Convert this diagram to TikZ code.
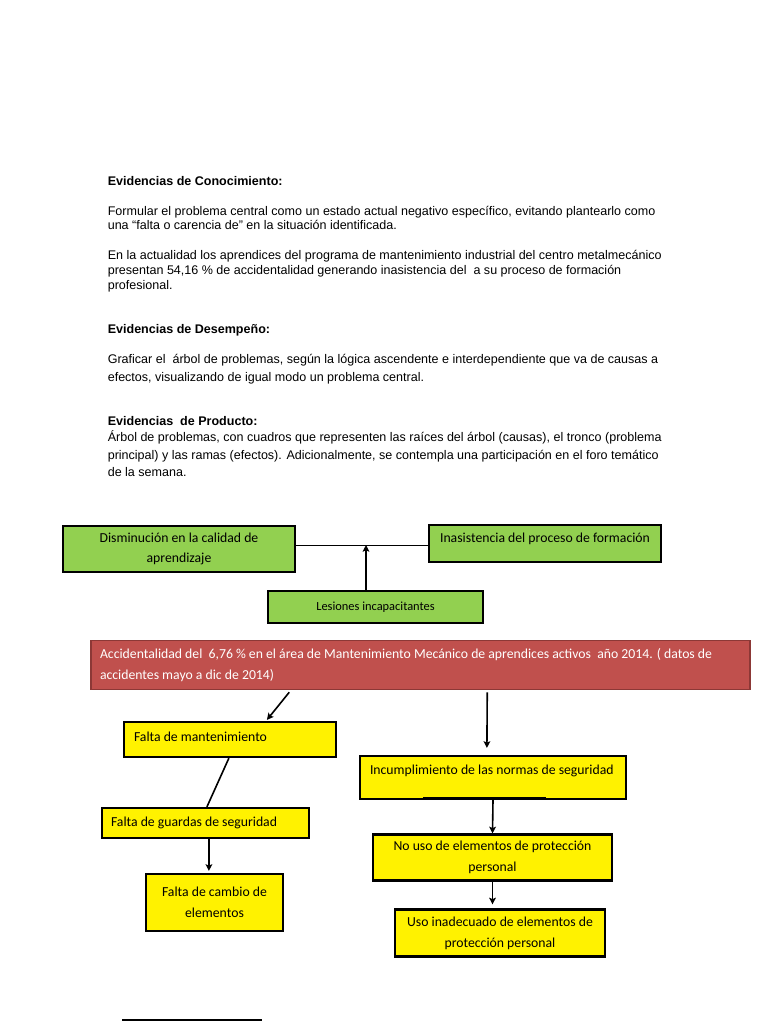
\documentclass[tikz,border=0pt]{standalone}
\usepackage{fontspec}
\setmainfont{Liberation Sans}
\newfontfamily\boxfont{Carlito}
\usetikzlibrary{arrows.meta,calc}

\newlength\px
\setlength\px{0.75pt}
\definecolor{effectgreen}{HTML}{92D050}
\definecolor{centralred}{HTML}{C0504D}
\definecolor{centraledge}{HTML}{8C3836}

\tikzset{
  body/.style={anchor=base west, inner sep=0pt, font=\fontsize{9.4}{11}\selectfont},
  head/.style={body, font=\fontsize{9.4}{11}\selectfont\bfseries},
  cause/.style={draw, line width=2.2\px, fill=yellow, inner sep=0pt,
    font=\boxfont\fontsize{10.3}{15.5}\selectfont},
  effect/.style={cause, fill=effectgreen},
  central/.style={draw=centraledge, line width=1.5\px, fill=centralred, text=white,
    inner sep=0pt, font=\boxfont\fontsize{10.3}{15.5}\selectfont},
}

\begin{document}
\begin{tikzpicture}[x=0.75pt, y=-0.75pt, >={Stealth[length=5pt,width=5pt,inset=1pt]}, line width=1.6\px]
  \fill[white] (0,0) rectangle (768,1024);

  % texto de evidencias
  \node[head] (h1) at (107,185) {Evidencias de Conocimiento:};
  \node[body] (p1a) at (107,215) {Formular el problema central como un estado actual negativo específico, evitando plantearlo como};
  \node[body] (p1b) at (107,229) {una “falta o carencia de” en la situación identificada.};
  \node[body] (p2a) at (107,259) {En la actualidad los aprendices del programa de mantenimiento industrial del centro metalmecánico};
  \node[body] (p2b) at (107,274) {presentan 54,16 \% de accidentalidad generando inasistencia del\ \ a su proceso de formación};
  \node[body] (p2c) at (107,289) {profesional.};
  \node[head] (h2) at (107,333) {Evidencias de Desempeño:};
  \node[body] (p3a) at (107,363) {Graficar el\ \ árbol de problemas, según la lógica ascendente e interdependiente que va de causas a};
  \node[body] (p3b) at (107,381) {efectos, visualizando de igual modo un problema central.};
  \node[head] (h3) at (107,425) {Evidencias\ \ de Producto:};
  \node[body] (p4a) at (107,441) {Árbol de problemas, con cuadros que representen las raíces del árbol (causas), el tronco (problema};
  \node[body] (p4b) at (107,459) {principal) y las ramas (efectos). Adicionalmente, se contempla una participación en el foro temático};
  \node[body] (p4c) at (107,476) {de la semana.};

  % efectos
  \node[effect, minimum width=232\px, minimum height=46\px, align=center] (dis) at (179,549)
    {Disminución en la calidad de\\aprendizaje};
  \node[effect, minimum width=232\px, minimum height=37\px, text depth=12\px] (ina) at (545,543.5)
    {Inasistencia del proceso de formación};
  \node[effect, minimum width=215\px, minimum height=32\px, font=\boxfont\fontsize{9.3}{12}\selectfont] (les) at (375.5,607)
    {Lesiones incapacitantes};

  % problema central
  \node[central, minimum width=659\px, minimum height=49\px, text width=641\px, align=flush left] (acc) at (420.5,665)
    {\mbox{Accidentalidad del\ \ 6,76 \% en el área de Mantenimiento Mecánico de aprendices activos\ \ año 2014. ( datos de}\\\mbox{accidentes mayo a dic de 2014)}};

  % causas
  \node[cause, minimum width=212\px, minimum height=35\px, text width=192\px, align=flush left, text depth=6\px] (fman) at (230,739.5)
    {Falta de mantenimiento};
  \node[cause, minimum width=207\px, minimum height=30\px, text width=189\px, align=flush left] (fgua) at (205.5,823)
    {Falta de guardas de seguridad};
  \node[cause, minimum width=137\px, minimum height=57\px, align=center] (fcam) at (214.5,902.5)
    {Falta de cambio de\\elementos};
  \node[cause, minimum width=266\px, minimum height=43\px, text width=246\px, align=flush left, text depth=15\px] (inc) at (493,777.5)
    {\mbox{Incumplimiento de las normas de seguridad}};
  \node[cause, minimum width=239\px, minimum height=46\px, align=center] (nouso) at (492.5,857.5)
    {No uso de elementos de protección\\personal};
  \node[cause, minimum width=210\px, minimum height=47\px, align=center] (uso) at (500,933)
    {Uso inadecuado de elementos de\\protección personal};
  \draw[line width=0.9\px] ($(inc.south west)+(64,-2.5)$) -- ++(123,0);

  % conectores
  \coordinate (join) at (366,545);
  \draw[line width=1\px] (dis.east |- join) -- (ina.west |- join);
  \draw[->] (les.north -| join) -- (join);
  \draw[->] ($(acc.south west)+(199,2)$) -- ($(fman.north west)+(144,-1)$);
  \draw ($(fman.south west)+(106,0)$) -- ($(fgua.north west)+(106,0)$);
  \draw[->] ($(fgua.south west)+(108,0)$) -- ($(fcam.north west)+(64,-2)$);
  \draw[->] ($(acc.south west)+(397,2)$) -- ($(inc.north west)+(128,-7)$);
  \draw[->] (inc.south) -- (nouso.north);
  \draw[->, shorten >=4\px] (nouso.south) -- (nouso.south |- uso.north);

  \draw[line width=2.5\px] (122,1020) -- (262,1020);
\end{tikzpicture}
\end{document}
